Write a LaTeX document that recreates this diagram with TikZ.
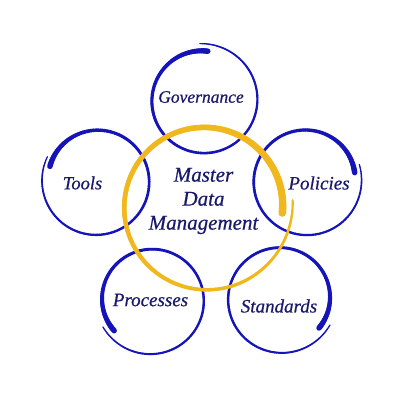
\documentclass[tikz,border=0pt]{standalone}
\usepackage{fontspec}
\setmainfont{Liberation Serif}
\usetikzlibrary{calc}
\definecolor{ringblue}{RGB}{20,20,185}
\definecolor{txtblue}{RGB}{26,26,108}
\definecolor{ringyellow}{RGB}{240,184,28}

\pgfkeys{/brush/.is family,/brush/.cd,
  start/.initial=0, span/.initial=360,
  r0/.initial=50, rm/.initial=52, r1/.initial=56,
  w0/.initial=5.5, wa/.initial=3.3, w1/.initial=1.8,
  col/.initial=ringblue, n/.initial=150}

\newcommand\brushring[2]{%
  \begingroup
  \pgfkeys{/brush/.cd,#2}%
  \pgfkeysgetvalue{/brush/start}\bS
  \pgfkeysgetvalue{/brush/span}\bSp
  \pgfkeysgetvalue{/brush/r0}\bRo
  \pgfkeysgetvalue{/brush/rm}\bRm
  \pgfkeysgetvalue{/brush/r1}\bRi
  \pgfkeysgetvalue{/brush/w0}\bWo
  \pgfkeysgetvalue{/brush/wa}\bWa
  \pgfkeysgetvalue{/brush/w1}\bWi
  \pgfkeysgetvalue{/brush/col}\bC
  \pgfkeysgetvalue{/brush/n}\bN
  \foreach \i in {1,...,\bN}{%
    \pgfmathsetmacro\bTa{(\i-1)/\bN}%
    \pgfmathsetmacro\bTb{\i/\bN}%
    \pgfmathsetmacro\bTm{(\i-0.5)/\bN}%
    \pgfmathsetmacro\bAa{\bS+\bSp*\bTa}%
    \pgfmathsetmacro\bAb{\bS+\bSp*\bTb}%
    \pgfmathsetmacro\bQa{\bTa*\bTa}%
    \pgfmathsetmacro\bPa{(1-\bTa)*(1-\bTa)}%
    \pgfmathsetmacro\bQb{\bTb*\bTb}%
    \pgfmathsetmacro\bPb{(1-\bTb)*(1-\bTb)}%
    \pgfmathsetmacro\bRa{\bRm+(\bRi-\bRm)*\bQa*\bQa-(\bRm-\bRo)*\bPa*\bPa}%
    \pgfmathsetmacro\bRb{\bRm+(\bRi-\bRm)*\bQb*\bQb-(\bRm-\bRo)*\bPb*\bPb}%
    \pgfmathsetmacro\bU{(1-\bTm)*(1-\bTm)}%
    \pgfmathsetmacro\bV{\bU*\bU}%
    \pgfmathsetmacro\bTt{\bTm*\bTm*\bTm*\bTm*\bTm*\bTm}%
    \pgfmathsetmacro\bW{\bWi+(\bWa-\bWi)*(1-\bTm)+(\bWo-\bWa)*\bV*\bV-0.6*\bTt*\bTt}%
    \draw[line width=\bW pt,color=\bC,line cap=round]
      ($(#1)+(\bAa:\bRa pt)$) -- ($(#1)+(\bAb:\bRb pt)$);
  }%
  \endgroup
}

\tikzset{
  lbl/.style={text=txtblue, font=\addfontfeature{FakeBold=0.6}\itshape\fontsize{19}{22}\selectfont, inner sep=0pt},
}

\begin{document}
\begin{tikzpicture}[x=1pt,y=1pt]
  \useasboundingbox[fill=white] (0,0) rectangle (400,400);

  \coordinate (cgov) at (203.5,299.5);
  \coordinate (ctools) at (96.5,218.5);
  \coordinate (cpol) at (306.5,218.5);
  \coordinate (cproc) at (151.5,99.5);
  \coordinate (cstd) at (280.5,101);
  \coordinate (cmdm) at (205,193);

  \brushring{cgov}{start=85, span=368.7, r0=49.5, rm=52.5, r1=57}
  \brushring{ctools}{start=162, span=-368.8, r0=49, rm=53, r1=55}
  \brushring{cpol}{start=10.4, span=367.6, r0=49, rm=53, r1=55.5}
  \brushring{cproc}{start=219, span=-370.4, r0=48, rm=52, r1=55.3}
  \brushring{cstd}{start=-37, span=369.3, r0=48.2, rm=52, r1=55.9}
  \brushring{cmdm}{start=-4.5, span=369, r0=77.5, rm=80.5, r1=88,
                   w0=7.5, wa=6.5, w1=2.6, col=ringyellow, n=220}

  \node[lbl, font=\addfontfeature{FakeBold=0.6}\itshape\fontsize{17.5}{20}\selectfont] (gov) at (201,303) {Governance};
  \node[lbl, font=\addfontfeature{FakeBold=0.6}\itshape\fontsize{18.5}{22}\selectfont] (tools) at (82.5,217) {Tools};
  \node[lbl] (pol) at (319,217) {Policies};
  \node[lbl] (proc) at (150.5,100) {Processes};
  \node[lbl] (std) at (279,94) {Standards};
  \node[lbl, align=center, font=\addfontfeature{FakeBold=0.6}\itshape\fontsize{21}{24}\selectfont] (mdm) at (203.5,199)
    {Master\\Data\\Management};
\end{tikzpicture}
\end{document}
